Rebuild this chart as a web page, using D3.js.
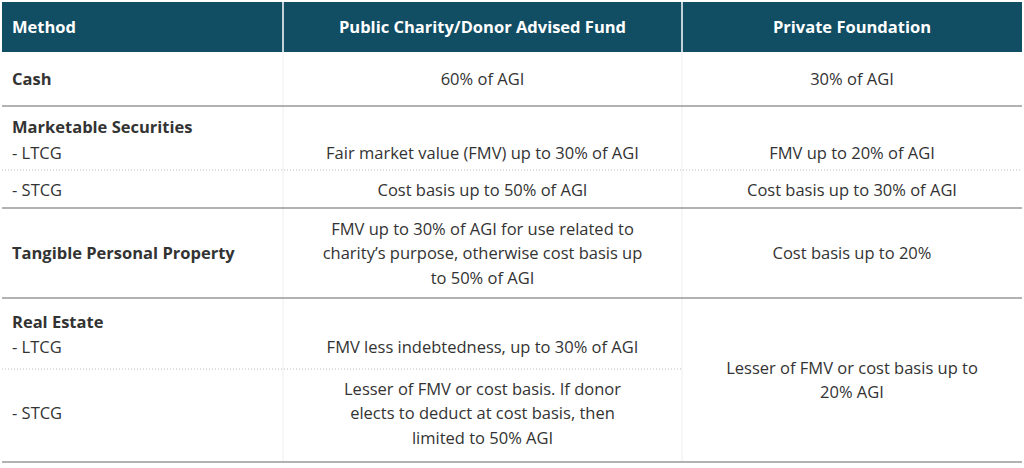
<!DOCTYPE html>
<html><head><meta charset="utf-8">
<script src="https://cdn.jsdelivr.net/npm/d3@7"></script>
<style>body{margin:0;background:#fff}text{font-family:"Open Sans",sans-serif;fill:#333}</style>
</head><body><svg id="c" width="1024" height="468"></svg>
<script>
// table content
const headers = ["Method", "Public Charity/Donor Advised Fund", "Private Foundation"];
const methods = [["Cash"], ["Marketable Securities"], ["- LTCG"], ["- STCG"], ["Tangible Personal Property"], ["Real Estate"], ["- LTCG"], ["- STCG"]];
const publicCharity = [["60% of AGI"], [], ["Fair market value (FMV) up to 30% of AGI"], ["Cost basis up to 50% of AGI"],
  ["FMV up to 30% of AGI for use related to", "charity’s purpose, otherwise cost basis up", "to 50% of AGI"],
  [], ["FMV less indebtedness, up to 30% of AGI"],
  ["Lesser of FMV or cost basis. If donor", "elects to deduct at cost basis, then", "limited to 50% AGI"]];
const privateFoundation = [["30% of AGI"], [], ["FMV up to 20% of AGI"], ["Cost basis up to 30% of AGI"], ["Cost basis up to 20%"],
  [], ["Lesser of FMV or cost basis up to", "20% AGI"], []];

// layout
const colX = [2, 283, 682, 1022];
const textY = [79, 127, 153, 190, 253, 322, 347, 413];
const bold = [true, true, false, false, true, true, false, false];
const privY = [79, null, 153, 190, 253, null, 380, null];
const lh = 24.5;
const svg = d3.select("#c");

svg.append("rect").attr("x", 2).attr("y", 2).attr("width", 1020).attr("height", 50).attr("fill", "#114e64");
svg.selectAll(".hd").data(headers).join("text")
  .attr("x", (d, i) => i === 0 ? 12 : (colX[i] + colX[i + 1]) / 2)
  .attr("y", 33).attr("text-anchor", (d, i) => i === 0 ? "start" : "middle")
  .attr("font-size", 16.5).attr("font-weight", "bold").style("fill", "#fff").text(d => d);
[283, 682].forEach(x => svg.append("line").attr("x1", x).attr("x2", x).attr("y1", 2).attr("y2", 52).attr("stroke", "#fff").attr("stroke-width", 1.5));

// body verticals
[283, 682].forEach(x => svg.append("line").attr("x1", x).attr("x2", x).attr("y1", 52).attr("y2", 462).attr("stroke", "#eee"));
// solid separators
[106, 208, 298, 462].forEach(y => svg.append("line").attr("x1", 2).attr("x2", 1022).attr("y1", y).attr("y2", y).attr("stroke", "#999").attr("stroke-width", 1.5));
// dotted separators
[[170, 1022], [369, 682]].forEach(([y, x2]) => svg.append("line").attr("x1", 2).attr("x2", x2).attr("y1", y).attr("y2", y)
  .attr("stroke", "#bbb").attr("stroke-dasharray", "1,2"));

function cell(lines, cx, cy, anchor, isBold) {
  const n = lines.length;
  lines.forEach((t, k) => svg.append("text").attr("x", cx).attr("y", cy + (k - (n - 1) / 2) * lh + 6)
    .attr("text-anchor", anchor).attr("font-size", 16.5).attr("font-weight", isBold ? "bold" : "normal").text(t));
}
methods.forEach((m, i) => {
  cell(m, 12, textY[i], "start", bold[i]);
  cell(publicCharity[i], (colX[1] + colX[2]) / 2, textY[i], "middle", false);
  if (privY[i] !== null) cell(privateFoundation[i], (colX[2] + colX[3]) / 2, privY[i], "middle", false);
});
</script></body></html>
